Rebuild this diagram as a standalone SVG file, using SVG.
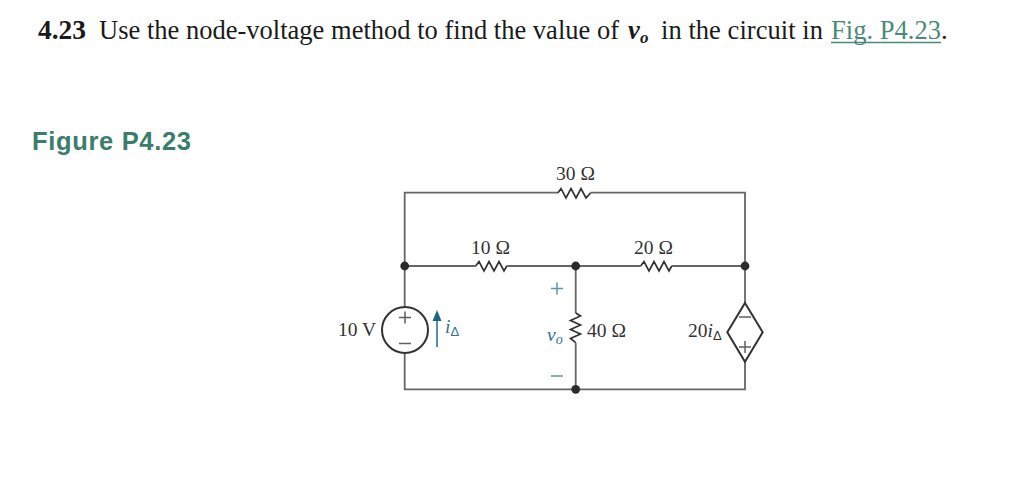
<svg xmlns="http://www.w3.org/2000/svg" width="1020" height="494" viewBox="0 0 1020 494">
<style>
text{font-family:"Liberation Serif","Times New Roman",serif}
.t{font-size:26.5px;fill:#1a1a1a}
.l{font-size:26.5px;fill:#4a8a78}
.c{font-size:19.5px;fill:#333}
.b{fill:#2f7390}
.w{fill:none;stroke:#666;stroke-width:1.8}
.r{fill:none;stroke:#333;stroke-width:1.7;stroke-linejoin:miter}
.s{fill:#fff;stroke:#333;stroke-width:2}
.d{fill:#2b2b2b}
.p{fill:none;stroke:#5f5f5f;stroke-width:1.5}
.q{fill:none;stroke:#5f93a8;stroke-width:1.5}
</style>
<rect width="1020" height="494" fill="#fff"/>
<g id="title">
<text class="t" x="38" y="39" font-weight="700" textLength="48" lengthAdjust="spacingAndGlyphs">4.23</text>
<text class="t" x="99" y="39" textLength="520" lengthAdjust="spacing">Use the node-voltage method to find the value of</text>
<text class="t" x="628" y="39" font-weight="700" font-style="italic">v</text>
<text x="640" y="43" font-size="17" font-weight="700" font-style="italic" fill="#1a1a1a">o</text>
<text class="t" x="661" y="39" textLength="162" lengthAdjust="spacing">in the circuit in</text>
<text class="l" x="831" y="39" textLength="110" lengthAdjust="spacing">Fig. P4.23</text>
<line x1="831" y1="42.5" x2="941" y2="42.5" stroke="#4a8a78" stroke-width="1.3"/>
<text class="t" x="941" y="39">.</text>
</g>
<text id="figure-label" x="32" y="150" font-size="25.5" font-weight="700" fill="#3b7d6c" textLength="159" lengthAdjust="spacing" style="font-family:'Liberation Sans',Arial,sans-serif">Figure P4.23</text>
<g id="connectors">
<path class="w" d="M558 192.7H404.7V307M404.7 353V389.3H745V361.7M590.7 192.7H745V303M404.7 266H475.7M506.7 266H640.7M671.7 266H745M575.7 266V313M575.7 342.7V389.3"/>
</g>
<g id="r30"><path class="r" d="M558 192.7L561 188.5L566 198L571 188.5L576 198L581 188.5L586 198L590.7 192.7"/><text class="c" x="575.5" y="179.5" text-anchor="middle">30 Ω</text></g>
<g id="r10"><path class="r" d="M475.7 266L479 261.5L484 271L489 261.5L494 271L499 261.5L504 271L506.7 266"/><text class="c" x="490.5" y="254" text-anchor="middle">10 Ω</text></g>
<g id="r20"><path class="r" d="M640.7 266L644 261.5L649 271L654 261.5L659 271L664 261.5L669 271L671.7 266"/><text class="c" x="653.5" y="254" text-anchor="middle">20 Ω</text></g>
<g id="r40"><path class="r" d="M575.7 313L580.5 316L570.5 320.5L580.5 325L570.5 329.5L580.5 334L570.5 338.5L575.7 342.7"/><text class="c" x="587" y="337">40 Ω</text></g>
<g id="source"><circle class="s" cx="405" cy="330" r="23"/><path class="p" d="M399 317.5H411M405 311.5V323.5M399 343.5H411"/><text class="c" x="338" y="336">10 V</text></g>
<g id="dep-source"><path class="s" d="M745 303L762.7 332.3L745 361.7L727.3 332.3Z"/><path class="p" d="M739 317H751M739 347H751M745 341V353"/><text class="c" x="688" y="337">20<tspan font-style="italic">i</tspan><tspan font-size="13" dy="3" font-family="Liberation Sans">Δ</tspan></text></g>
<g id="ia"><line x1="437" y1="347" x2="437" y2="318" stroke="#2f7390" stroke-width="1.6"/><path d="M437 310L441.5 321H432.5Z" fill="#1f6485"/><text class="c b" x="445" y="333" font-style="italic">i<tspan font-size="13" dy="3" font-style="normal" font-family="Liberation Sans">Δ</tspan></text></g>
<g id="vo"><path class="q" d="M551 288.5H563M557 282.5V294.5M551 376H563"/><text class="c b" x="547" y="341" font-style="italic">v<tspan font-size="14" dy="3">o</tspan></text></g>
<g id="junctions"><circle class="d" cx="404.7" cy="266" r="4.4"/><circle class="d" cx="575.7" cy="266" r="4.4"/><circle class="d" cx="745" cy="266" r="4.4"/><circle class="d" cx="575.7" cy="389.3" r="4.4"/></g>
</svg>
